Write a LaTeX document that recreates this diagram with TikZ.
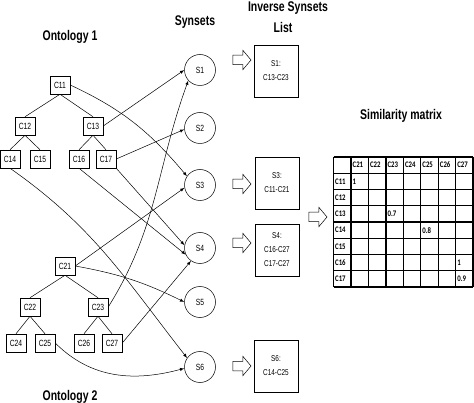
\documentclass[tikz,border=0pt]{standalone}
\usepackage{fontspec}
\setmainfont{Liberation Sans}
\newfontfamily\narrowfont[FakeStretch=0.75]{Liberation Sans}
\newfontfamily\cellfont[FakeStretch=0.8]{Carlito}
\usetikzlibrary{shapes.arrows}

\tikzset{
  concept/.style={draw, line width=0.5pt, minimum width=20pt, minimum height=18pt, inner sep=0pt,
    font=\narrowfont\fontsize{9}{10}\selectfont},
  synset/.style={draw, circle, line width=0.5pt, minimum size=31pt, inner sep=0pt,
    font=\narrowfont\fontsize{9}{10}\selectfont},
  inverse/.style={draw, line width=0.5pt, minimum width=44pt, minimum height=52pt, align=center,
    font=\narrowfont\fontsize{8.5}{14}\selectfont},
  title/.style={font=\narrowfont\bfseries\fontsize{14}{16}\selectfont, anchor=base},
  bigarrow/.style={draw, line width=0.5pt, single arrow, single arrow head extend=5pt,
    single arrow tip angle=100, minimum height=18pt, inner xsep=0pt, inner ysep=4.5pt,
    text height=0pt, text depth=0pt},
  link/.style={->, >=latex, line width=0.5pt},
  gridline/.style={line width=1.3pt},
  cell/.style={anchor=west, inner sep=1.5pt, font=\cellfont\bfseries\fontsize{8.5}{9}\selectfont},
}

\begin{document}
\begin{tikzpicture}[x=1pt,y=1pt]
\useasboundingbox (0,0) rectangle (474,402);

% Titles
\node[title] (onto1) at (70,361) {Ontology 1};
\node[title] (onto2) at (70,2) {Ontology 2};
\node[title] (syntitle) at (195,376) {Synsets};
\node[title] (invtitle) at (288,390) {Inverse Synsets};
\node[title] (listtitle) at (283,369) {List};
\node[title] (simtitle) at (401,282) {Similarity matrix};

% Ontology 1
\node[concept] (c11) at (60,317) {C11};
\node[concept] (c12) at (25,276) {C12};
\node[concept] (c13) at (93,276) {C13};
\node[concept] (c14) at (10,243) {C14};
\node[concept] (c15) at (40,243) {C15};
\node[concept] (c16) at (79,243) {C16};
\node[concept] (c17) at (106,243) {C17};

% Ontology 2
\node[concept] (c21) at (65,136) {C21};
\node[concept] (c22) at (30,95) {C22};
\node[concept] (c23) at (98,95) {C23};
\node[concept] (c24) at (16,59) {C24};
\node[concept] (c25) at (45,59) {C25};
\node[concept] (c26) at (84,59) {C26};
\node[concept] (c27) at (112,59) {C27};

\foreach \p/\c in {c11/c12,c11/c13,c12/c14,c12/c15,c13/c16,c13/c17,
                   c21/c22,c21/c23,c22/c24,c22/c25,c23/c26,c23/c27}
  \draw[line width=0.5pt] (\p.south) -- (\c.north);

% Synsets
\node[synset] (s1) at (200,332) {S1};
\node[synset] (s2) at (200,274) {S2};
\node[synset] (s3) at (200,217) {S3};
\node[synset] (s4) at (200,154) {S4};
\node[synset] (s5) at (200,100) {S5};
\node[synset] (s6) at (200,35) {S6};

% Links from concepts to synsets
\draw[link] (c11.east) to[out=-25,in=130] (s3.146);
\draw[link] (c13.east) -- (s1.180);
\draw[link] (c17.east) -- (s2.185);
\draw[link] (c14.south) to[out=-35,in=128] (s6.145);
\draw[link] (c16.south) -- (s4.205);
\draw[link] (c17.south east) -- (s4.170);
\draw[link] (c21.east) -- (s3.190);
\draw[link] (c21.east) to[bend left=8] (s5.180);
\draw[link] (c23.east) to[out=58,in=-110] (s1.222);
\draw[link] (c25.east) to[out=-45,in=195] (s6.185);
\draw[link] (c27.east) -- (s4.235);

% Inverse synsets list
\node[bigarrow] (a1) at (240,342) {};
\node[bigarrow] (a3) at (240,218) {};
\node[bigarrow] (a4) at (240,159) {};
\node[bigarrow] (a6) at (240,36) {};
\node[inverse] (l1) at (276,331) {S1:\\C13-C23};
\node[inverse] (l3) at (277,219) {S3:\\C11-C21};
\node[inverse] (l4) at (277,152) {S4:\\C16-C27\\C17-C27};
\node[inverse] (l6) at (276,36) {S6:\\C14-C25};

% Similarity matrix
\node[bigarrow] (am) at (316,185) {};
\begin{scope}[shift={(333.5,245)}, x=17.45pt, y=-16.25pt]
\foreach \i in {0,...,8} {
  \draw[gridline] (\i,0) -- (\i,8);
  \draw[gridline] (0,\i) -- (8,\i);
}
\foreach \c [count=\k] in {21,...,27}
  \node[cell] (col\c) at (\k,0.5) {C\c};
\foreach \r [count=\k] in {11,...,17}
  \node[cell] (row\r) at (0,\k+0.5) {C\r};
\node[cell] (v11) at (1,1.5) {1};
\node[cell] (v33) at (3,3.5) {0.7};
\node[cell] (v45) at (5,4.5) {0.8};
\node[cell] (v67) at (7,6.5) {1};
\node[cell] (v77) at (7,7.5) {0.9};
\end{scope}

\end{tikzpicture}
\end{document}
